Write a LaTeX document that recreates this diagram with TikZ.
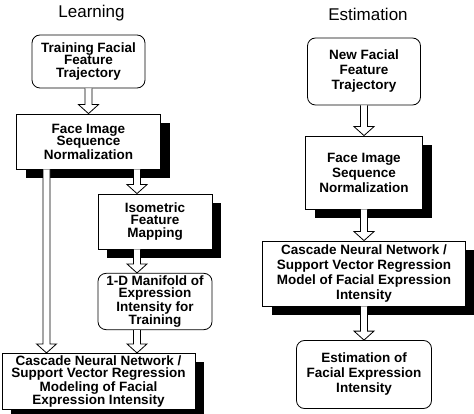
\documentclass[tikz,border=0pt]{standalone}
\usepackage{fontspec}
\setmainfont{Liberation Sans}
\usetikzlibrary{calc,shadows}

\begin{document}
\begin{tikzpicture}[
            x=1pt, y=-1pt,
            % distancia entre centros de bloques
            node distance=80pt,
            title/.style={font=\fontsize{17}{17}\selectfont},
            block/.style={rectangle, draw, fill=white, line width=0.8pt, align=center, inner sep=2pt, font=\bfseries\fontsize{13.5}{12.5}\selectfont},
            rblock/.style={block, font=\bfseries\fontsize{13.5}{15}\selectfont},
            round/.style={rounded corners=8pt},
            boxshadow/.style={drop shadow={shadow xshift=9pt, shadow yshift=-9pt, fill=black, opacity=1}},
            % flecha hueca
            hollow/.style={line width=0.8pt, fill=white, to path={let \p1=(\tikztostart), \p2=(\tikztotarget) in
                (\x1-3.5pt,\y1) -- (\x1-3.5pt,\y2+9pt) -- (\x1-10pt,\y2+9pt) -- (\x1,\y2) -- (\x1+10pt,\y2+9pt) -- (\x1+3.5pt,\y2+9pt) -- (\x1+3.5pt,\y1)}}
        ]
            \useasboundingbox (0,0) rectangle (474,414);

            % Learning
            \node [title] (learning) at (91.5,13) {Learning};
            \node [block, round, minimum width=113pt, minimum height=53pt] (train) at (88.5,61.5) {Training Facial\\Feature\\Trajectory};
            \node [block, boxshadow, below of=train, minimum width=144pt, minimum height=55pt] (norm) {Face Image\\Sequence\\Normalization};
            \node [block, boxshadow, below of=norm, xshift=66.5pt, minimum width=114pt, minimum height=55pt] (iso) {Isometric\\Feature\\Mapping};
            \node [block, round, below of=iso, minimum width=114pt, minimum height=52pt] (manifold) {1-D Manifold of\\Expression\\Intensity for\\Training};
            \node [block, boxshadow, below of=manifold, xshift=-56.5pt, minimum width=193pt, minimum height=56pt] (cascL) {Cascade Neural Network /\\Support Vector Regression\\Modeling of Facial\\Expression Intensity};

            % Estimation
            \node [title] (estimation) at (368,14) {Estimation};
            \node [rblock, round, minimum width=113pt, minimum height=67pt] (newtraj) at (364,71.5) {New Facial\\Feature\\Trajectory};
            \node [rblock, boxshadow, node distance=101pt, below of=newtraj, minimum width=117pt, minimum height=73pt] (normR) {Face Image\\Sequence\\Normalization};
            \node [rblock, boxshadow, node distance=101pt, below of=normR, minimum width=203pt, minimum height=65pt] (cascR) {Cascade Neural Network /\\Support Vector Regression\\Model of Facial Expression\\Intensity};
            \node [rblock, round, node distance=101pt, below of=cascR, minimum width=135pt, minimum height=68pt] (estim) {Estimation of\\Facial Expression\\Intensity};

            \draw [hollow] (train.south) to (train.south |- norm.north);
            \draw [hollow] ([xshift=-42pt]norm.south) to ([xshift=-42pt]norm.south |- cascL.north);
            \draw [hollow] ([xshift=48.5pt]norm.south) to ([xshift=48.5pt]norm.south |- iso.north);
            \draw [hollow] ([xshift=-18pt]iso.south) to ([xshift=-18pt]iso.south |- manifold.north);
            \draw [hollow] ([xshift=-18pt]manifold.south) to ([xshift=-18pt]manifold.south |- cascL.north);

            \draw [hollow] (newtraj.south) to (normR.north);
            \draw [hollow] (normR.south) to (cascR.north);
            \draw [hollow] (cascR.south) to (estim.north);
        \end{tikzpicture}
\end{document}
